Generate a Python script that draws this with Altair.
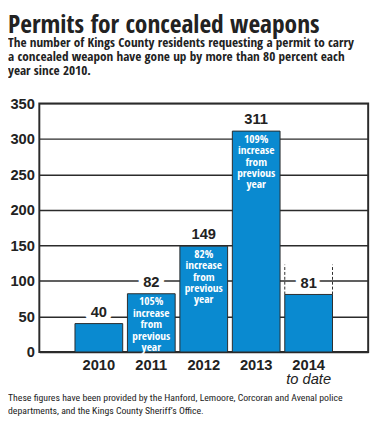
import altair as alt
import pandas as pd

years = ["2010", "2011", "2012", "2013", "2014"]
permits = [40, 82, 149, 311, 81]
notes = ["", "105%\nincrease\nfrom\nprevious\nyear", "82%\nincrease\nfrom\nprevious\nyear",
         "109%\nincrease\nfrom\nprevious\nyear", ""]
y_ticks = [0, 50, 100, 150, 200, 250, 300, 350]
partial_year = "2014"
partial_note = "to date"
partial_top = 123

title = "Permits for concealed weapons"
subtitle = ["The number of Kings County residents requesting a permit to carry",
            "a concealed weapon have gone up by more than 80 percent each",
            "year since 2010."]
footer = ["These figures have been provided by the Hanford, Lemoore, Corcoran and Avenal police",
          "departments, and the Kings County Sheriff\u2019s Office."]

COND = "Open Sans Condensed"
COND_REG = "Roboto Condensed"
NUM = "Liberation Sans"
BLUE = "#0a8ad0"
DARK = "#2b2b2b"
INK = "#222222"

df = pd.DataFrame({"year": years, "permits": permits, "note": notes})
df_partial = pd.DataFrame({"year": [partial_year], "permits": [permits[years.index(partial_year)]],
                           "top": [partial_top], "note": [partial_note]})

W, H = 336, 254

xs = alt.Scale(domain=years, paddingInner=0.09, paddingOuter=0.68)
ys = alt.Scale(domain=[0, 350], nice=False)

x_axis = alt.Axis(title=None, ticks=False, domain=False, labelAngle=0,
                  labelFont=NUM, labelFontWeight="bold", labelFontSize=15,
                  labelColor=INK, labelPadding=6)
y_axis = alt.Axis(title=None, values=y_ticks, ticks=False, domain=False,
                  labelFont=NUM, labelFontWeight="bold", labelFontSize=15,
                  labelColor=INK, labelPadding=5, labelOverlap=False,
                  grid=True, gridColor=DARK, gridWidth=1.5, gridOpacity=1)

X = alt.X("year:N", scale=xs, sort=years, axis=x_axis)
Y = alt.Y("permits:Q", scale=ys, axis=y_axis)

base = alt.Chart(df)

bars = base.mark_bar(color=BLUE, stroke=DARK, strokeWidth=1).encode(x=X, y=Y)

halo = base.mark_text(font=NUM, fontWeight="bold", fontSize=15, baseline="middle",
                      dy=-12, color="white", stroke="white", strokeWidth=11,
                      strokeJoin="round").encode(x=X, y=Y, text="permits:Q")
vals = base.mark_text(font=NUM, fontWeight="bold", fontSize=15, baseline="middle",
                      dy=-12, color=INK).encode(x=X, y=Y, text="permits:Q")

inner = base.mark_text(font=COND, fontWeight="bold", fontSize=11.6, baseline="top",
                       lineBreak="\n", lineHeight=11.6, dy=3, color="white").encode(
    x=X, y=Y, text="note:N")

pbase = alt.Chart(df_partial)
dash_l = pbase.mark_rule(stroke=DARK, strokeWidth=1, strokeDash=[3, 2]).encode(
    x=alt.X("year:N", scale=xs, sort=years, bandPosition=0, axis=x_axis),
    y=Y, y2="top:Q")
dash_r = pbase.mark_rule(stroke=DARK, strokeWidth=1, strokeDash=[3, 2]).encode(
    x=alt.X("year:N", scale=xs, sort=years, bandPosition=1, axis=x_axis),
    y=Y, y2="top:Q")
todate = pbase.mark_text(font=NUM, fontStyle="italic", fontSize=15, baseline="middle",
                         color=INK).encode(x=X, y=alt.value(H + 28), text="note:N")

tdf = pd.DataFrame({"t": [title]})
t_mark = alt.Chart(tdf).mark_text(font=COND, fontWeight="bold", fontSize=26,
                                  align="left", baseline="alphabetic", color=INK).encode(
    x=alt.value(-32), y=alt.value(-71.5), text="t:N")

sdf = pd.DataFrame({"t": ["\n".join(subtitle)]})
s_mark = alt.Chart(sdf).mark_text(font=COND, fontWeight="bold", fontSize=13.5,
                                  align="left", baseline="alphabetic", lineBreak="\n",
                                  lineHeight=14.2, color=INK).encode(
    x=alt.value(-32), y=alt.value(-57.5), text="t:N")

fdf = pd.DataFrame({"t": ["\n".join(footer)]})
f_mark = alt.Chart(fdf).mark_text(font=COND_REG, fontWeight="normal", fontSize=10,
                                  align="left", baseline="middle", lineBreak="\n",
                                  lineHeight=13, color=INK).encode(
    x=alt.value(-32), y=alt.value(301), text="t:N")

chart = alt.layer(bars, dash_l, dash_r, halo, vals, inner, todate, t_mark, s_mark, f_mark).properties(
    width=W, height=H,
    autosize=alt.AutoSizeParams(type="none"),
    padding={"left": 32, "top": 93, "right": 8, "bottom": 64},
    background="white",
).configure_view(stroke=DARK, strokeWidth=2)

chart.save("out.html", embed_options={"renderer": "svg", "actions": False})
